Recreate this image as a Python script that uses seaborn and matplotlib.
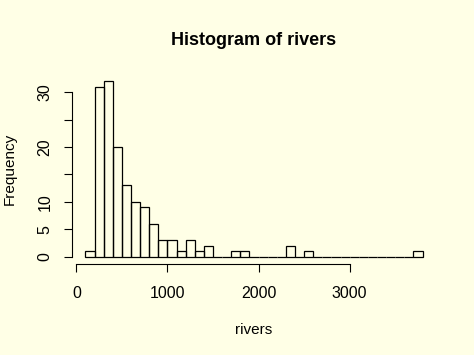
import numpy as np
import pandas as pd
import matplotlib
matplotlib.use("Agg")
import matplotlib.pyplot as plt
import seaborn as sns

# bin edges (width 100) and counts
bin_left = np.arange(100, 3800, 100)
counts = [1, 31, 32, 20, 13, 10, 9, 6, 3, 3, 1, 3, 1, 2, 0, 0, 1, 1, 0, 0,
          0, 0, 2, 0, 1, 0, 0, 0, 0, 0, 0, 0, 0, 0, 0, 0, 1]
y_ticks = [0, 5, 10, 15, 20, 25, 30]
y_labels = ["0", "5", "10", "", "20", "", "30"]
x_ticks = [0, 1000, 2000, 3000]

bg = "#FFFFE6"
df = pd.DataFrame({"mid": bin_left + 50, "n": counts})

sns.set_style("ticks")
plt.rcParams["font.family"] = ["Liberation Sans", "DejaVu Sans"]
plt.rcParams["text.color"] = "black"
plt.rcParams["axes.labelcolor"] = "black"
plt.rcParams["xtick.color"] = "black"
plt.rcParams["ytick.color"] = "black"

fig = plt.figure(figsize=(4.74, 3.55), dpi=100, facecolor=bg)
ax = fig.add_axes([72 / 474, 1 - 264 / 355, (436 - 72) / 474, (264 - 74) / 355])
ax.set_facecolor(bg)

sns.histplot(data=df, x="mid", weights="n", binwidth=100, binrange=(100, 3800),
             ax=ax, fill=False, color="black", linewidth=0.9)

ax.set_xlim(-48, 3948)
ax.set_ylim(-1.28, 33.28)
ax.set_xticks(x_ticks)
ax.set_xticklabels([str(t) for t in x_ticks], fontsize=11.5)
ax.set_yticks(y_ticks)
ax.set_yticklabels(y_labels, fontsize=11.5, rotation=90, va="center")
ax.tick_params(length=6, width=0.8, color="black")
ax.tick_params(axis="x", pad=10)
ax.tick_params(axis="y", pad=8)

for s in ["top", "right"]:
    ax.spines[s].set_visible(False)
ax.spines["left"].set_bounds(0, 30)
ax.spines["bottom"].set_bounds(0, 3000)
ax.spines["left"].set_color("black")
ax.spines["bottom"].set_color("black")
ax.spines["left"].set_linewidth(0.8)
ax.spines["bottom"].set_linewidth(0.8)

ax.set_xlabel("rivers", fontsize=11, labelpad=16)
ax.set_ylabel("Frequency", fontsize=11, labelpad=15)
ax.set_title("Histogram of rivers", fontsize=13, fontweight="bold", pad=21)

fig.savefig("out.png", dpi=100, facecolor=bg)
